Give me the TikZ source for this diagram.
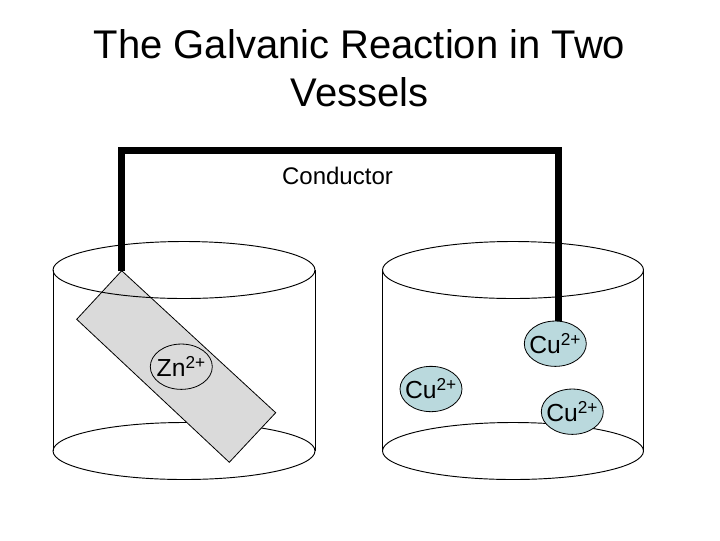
\documentclass[tikz,border=0pt]{standalone}
\usepackage{fontspec}
\setmainfont{Liberation Sans}
\usetikzlibrary{shapes.geometric}
\definecolor{plate}{HTML}{DADADA}
\definecolor{ionblue}{HTML}{BAD9DD}
\newcommand{\iontext}[2]{\raisebox{-0.4em}[0pt][0pt]{\makebox[0pt]{#1\textsuperscript{#2}}}}
\tikzset{
  rim/.style={draw=black,line width=0.7pt},
  ion/.style={ellipse,draw=black,line width=0.6pt,minimum width=46.5pt,minimum height=34pt,inner sep=0pt,font=\fontsize{18.5}{20}\selectfont},
  wire/.style={draw=black,line width=5.2pt,line join=miter},
  plain/.style={inner sep=0pt,align=center}
}
\begin{document}
\begin{tikzpicture}[x=0.75pt,y=-0.75pt]
\useasboundingbox (0,0) rectangle (720,540);
\draw[rim] (184,451) ellipse [x radius=131,y radius=28.5];
\draw[rim] (53,270) -- (53,451);
\draw[rim] (315,270) -- (315,451);
\draw[rim,fill=plate,line width=0.6pt] (121.7,270.7) -- (76.7,319.3) -- (229.3,462.3) -- (275.7,412.7) -- cycle;
\coordinate (plateTop) at (121.3,270.7);
\draw[rim] (184,270) ellipse [x radius=131,y radius=28.5];
\draw[rim] (513,451) ellipse [x radius=130.5,y radius=28.5];
\draw[rim] (513,270) ellipse [x radius=130.5,y radius=28.5];
\draw[rim] (382.5,270) -- (382.5,451);
\draw[rim] (643.5,270) -- (643.5,451);
\coordinate (wireEnd) at (558.8,330);
\draw[wire] (plateTop) -- (121.3,150.8) -- (558.8,150.8) -- (wireEnd);
\node[ion,fill=plate] (zn) at (181.3,366.7) {\iontext{Zn}{2+}};
\node[ion,fill=ionblue] (cuA) at (555.3,343.7) {\iontext{Cu}{2+}};
\node[ion,fill=ionblue] (cuB) at (431,389) {\iontext{Cu}{2+}};
\node[ion,fill=ionblue] (cuC) at (572.3,411.7) {\iontext{Cu}{2+}};
\node[plain,font=\fontsize{18}{20}\selectfont] (cond) at (337.5,176) {Conductor};
\node[plain,font=\fontsize{30}{36}\selectfont] (title) at (359.5,68) {The Galvanic Reaction in Two\\Vessels};
\end{tikzpicture}
\end{document}
